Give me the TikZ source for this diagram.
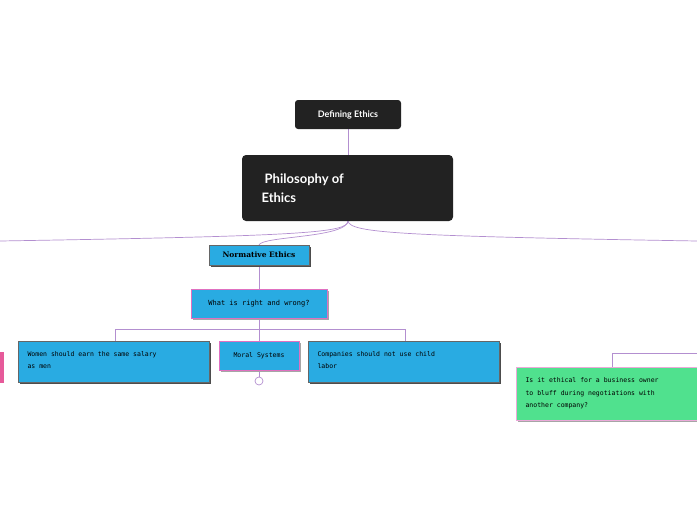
\documentclass[tikz,border=0pt]{standalone}
\usepackage{fontspec}
\setmainfont{Lato}
\newfontfamily\monof{DejaVu Sans Mono}
\newfontfamily\serf{DejaVu Serif}
\definecolor{dark}{HTML}{222222}
\definecolor{sky}{HTML}{29ABE2}
\definecolor{lnk}{HTML}{B38FD0}
\definecolor{pinkb}{HTML}{E070C0}
\definecolor{grn}{HTML}{50E18E}
\begin{document}
\begin{tikzpicture}[x=1pt,y=-1pt,
  darkbox/.style={fill=dark,text=white,rounded corners=3pt,font=\bfseries},
  bluebox/.style={fill=sky,draw=black!60,font=\monof\fontsize{7}{10}\selectfont,align=left,
    drop shadow/.style={}},
  lnkline/.style={draw=lnk,line width=0.7pt}]
\useasboundingbox (0,0) rectangle (697,520);
% connectors
\coordinate (L) at (0,241); \coordinate (R) at (697,241);
\draw[lnkline] (348,129) -- (348,155);
\draw[lnkline] (348,221) .. controls (348,233) and (300,236) .. (0,241);
\draw[lnkline] (348,221) .. controls (350,233) and (400,236) .. (697,241);
\draw[lnkline] (348,221) .. controls (346,238) and (262,236) .. (259,245);
\draw[lnkline] (259,265) -- (259,289);
\draw[lnkline] (259,318) -- (259,341);
\draw[lnkline] (115,341) -- (115,329) -- (405,329) -- (405,341);
\draw[lnkline] (259,370) -- (259,377);
\draw[lnkline] (259,381) circle (4);
\draw[lnkline] (612,367) -- (612,353) -- (697,353);
% boxes
\fill[dark,rounded corners=3pt] (295,100) rectangle (401,129);
\node[text=white,font=\bfseries\fontsize{9}{11}\selectfont] (de) at (348,114.5) {Defining Ethics};
\fill[dark,rounded corners=4pt] (242,155) rectangle (453,221);
\node[text=white,font=\bfseries\fontsize{13}{19}\selectfont,align=left,anchor=west] (ph) at (258,188) {\ Philosophy of\\Ethics};
% normative
\fill[black!70] (211,247) rectangle (311,267);
\fill[sky,draw=black!60] (209,245) rectangle (309,265);
\node[font=\serf\bfseries\fontsize{7.5}{9}\selectfont] (ne) at (259,255) {Normative Ethics};
\fill[black!35] (193,291) rectangle (329,320);
\fill[sky,draw=pinkb] (191,289) rectangle (327,318);
\node[font=\monof\fontsize{7}{9}\selectfont] (wr) at (259,303.5) {What is right and wrong?};
\fill[black!70] (20,343) rectangle (211,384);
\fill[sky,draw=black!60] (18,341) rectangle (209,382);
\node[font=\monof\fontsize{6.5}{12}\selectfont,align=left,anchor=north west] (wo) at (24,348) {Women should earn the same salary\\as men};
\fill[black!35] (221,343) rectangle (301,372);
\fill[sky,draw=pinkb] (219,341) rectangle (299,370);
\node[font=\monof\fontsize{6.5}{9}\selectfont] (ms) at (259,355.5) {Moral Systems};
\fill[black!70] (310,343) rectangle (501,384);
\fill[sky,draw=black!60] (308,341) rectangle (499,382);
\node[font=\monof\fontsize{6.5}{12}\selectfont,align=left,anchor=north west] (co) at (314,348) {Companies should not use child\\labor};
\fill[pinkb!80!red] (0,352) rectangle (4,383);
\fill[black!35] (518,369) rectangle (699,422);
\fill[grn,draw=pinkb!60] (516,367) rectangle (699,420);
\node[font=\monof\fontsize{6.5}{12.5}\selectfont,align=left,anchor=north west] (gr) at (522,374) {Is it ethical for a business owner\\to bluff during negotiations with\\another company?};
\end{tikzpicture}
\end{document}
